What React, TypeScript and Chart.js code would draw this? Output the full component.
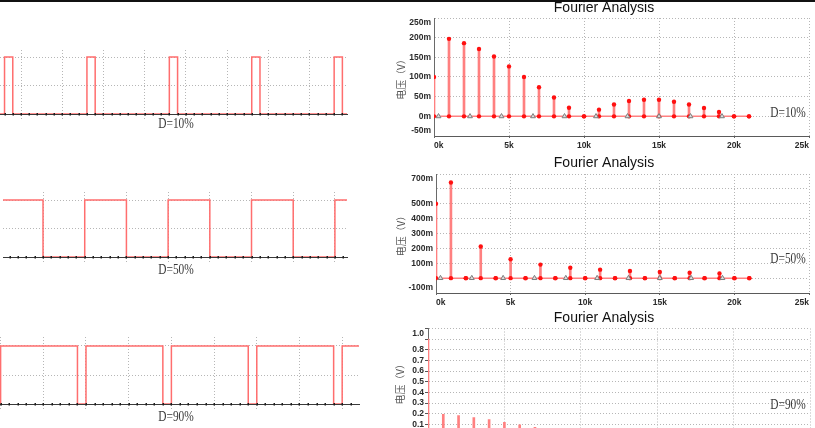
import React, { useEffect, useRef } from 'react';
import { Chart, registerables } from 'chart.js';

Chart.register(...registerables);

const SANS = '"Liberation Sans", Arial, Helvetica, sans-serif';
const SERIF = '"Liberation Serif", "Times New Roman", serif';
const CJK = '"Noto Sans CJK SC", "Noto Sans", sans-serif';

// ---------------- time-domain pulse trains (time in ms, level in V) ----------------
const w10Time = [-0.255, -0.2, -0.1, 0.8, 0.9, 1.8, 1.9, 2.8, 2.9, 3.8, 3.9, 3.956];
const w10Level = [0, 1, 0, 1, 0, 1, 0, 1, 0, 1, 0, 0];
const w10Grid = [0, 0.5, 1, 1.5, 2, 2.5, 3, 3.5];

const w50Time = [0.02, 0.5, 1, 1.5, 2, 2.5, 3, 3.5, 4, 4.145];
const w50Level = [1, 0, 1, 0, 1, 0, 1, 0, 1, 1];
const w50Grid = [0.5, 1, 1.5, 2, 2.5, 3, 3.5, 4];

const w90Time = [-0.007, 0, 0.9, 1, 1.9, 2, 2.9, 3, 3.9, 4, 4.197];
const w90Level = [0, 1, 0, 1, 0, 1, 0, 1, 0, 1, 1];
const w90Grid = [0, 0.5, 1, 1.5, 2, 2.5, 3, 3.5, 4];

const levelGrid = [0, 0.5, 1];
const minorStepMs = 0.1;

// ---------------- Fourier spectra (frequency in kHz, amplitude in V) ----------------
const harmonicsKHz = [0, 1, 2, 3, 4, 5, 6, 7, 8, 9, 10, 11, 12, 13, 14, 15, 16, 17, 18, 19, 20, 21];
const amp10 = [0.100, 0.197, 0.186, 0.171, 0.152, 0.127, 0.100, 0.074, 0.048, 0.022, 0, 0.017, 0.030, 0.039, 0.042, 0.042, 0.037, 0.030, 0.021, 0.011, 0, 0];
const amp50 = [0.500, 0.643, 0, 0.213, 0, 0.127, 0, 0.091, 0, 0.070, 0, 0.057, 0, 0.048, 0, 0.041, 0, 0.036, 0, 0.031, 0, 0];
const amp90 = [0.900, 0.194, 0.182, 0.164, 0.145, 0.119, 0.095, 0.073, 0.047, 0.022, 0, 0.017, 0.030, 0.039, 0.042, 0.042, 0.037, 0.030, 0.021, 0.011, 0, 0];
const markerKHz = [0.3, 2.4, 4.5, 6.6, 8.7, 10.8, 12.9, 15.0, 17.1, 19.2];

const freqTicksKHz = [0, 5, 10, 15, 20, 25];
const freqTickLabels = ['0k', '5k', '10k', '15k', '20k', '25k'];

const f10YTicks = [-0.05, 0, 0.05, 0.1, 0.15, 0.2, 0.25];
const f10YLabels = ['-50m', '0m', '50m', '100m', '150m', '200m', '250m'];
const f50YTicks = [-0.1, 0, 0.1, 0.2, 0.3, 0.4, 0.5, 0.6, 0.7];
const f50YLabels = ['-100m', '', '100m', '200m', '300m', '400m', '500m', '', '700m'];
const f90YTicks = [0, 0.1, 0.2, 0.3, 0.4, 0.5, 0.6, 0.7, 0.8, 0.9, 1.0];
const f90YLabels = ['', '0.1', '0.2', '0.3', '0.4', '0.5', '0.6', '0.7', '0.8', '', '1.0'];

const chartTitle = 'Fourier Analysis';
const yAxisTitle = '电压（V）';
const dutyLabels = ['D=10%', 'D=50%', 'D=90%'];

// ---------------- styles ----------------
const PULSE_RED = '#ff6e6e';
const DOT_RED = '#ff1010';
const STEM_RED = '#ff8080';
const GRID_GRAY = '#b6b6b6';
const DOT_DASH = [1, 2];
const TICK_FONT = { family: SANS, size: 8.5, weight: 'bold' as const };
const TICK_TXT = '#2a2a2a';

const hideAt = (val: number, color: string) => (c: any) =>
  c.tick && Math.abs(c.tick.value - val) < 1e-9 ? 'rgba(0,0,0,0)' : color;

const minorTicksPlugin = {
  id: 'minorTicks',
  afterDatasetsDraw(chart: any, _args: any, opts: any) {
    const step = opts && opts.step;
    if (!step) return;
    const xs = chart.scales.x;
    const ys = chart.scales.y;
    const y0 = Math.round(ys.getPixelForValue(0));
    const ctx = chart.ctx;
    ctx.save();
    ctx.fillStyle = opts.color || '#222';
    const first = Math.ceil(xs.min / step - 1e-9);
    const last = Math.floor(xs.max / step + 1e-9);
    for (let i = first; i <= last; i++) {
      const px = Math.round(xs.getPixelForValue(i * step));
      ctx.fillRect(px - 0.5, y0 - 1, 1.5, 2.5);
    }
    ctx.restore();
  },
};

function waveConfig(time: number[], level: number[], grid: number[], yMax: number): any {
  return {
    type: 'line',
    data: {
      datasets: [
        {
          data: time.map((t, i) => ({ x: t, y: level[i] })),
          stepped: true,
          borderColor: PULSE_RED,
          borderWidth: 1.5,
          pointRadius: 0,
          fill: false,
        },
      ],
    },
    options: {
      animation: false,
      responsive: false,
      devicePixelRatio: 1,
      events: [],
      layout: { padding: { left: 0, right: 2, top: 0, bottom: 0 } },
      plugins: {
        legend: { display: false },
        tooltip: { enabled: false },
        title: { display: false },
        minorTicks: { step: minorStepMs, color: '#1e1e1e' },
      },
      scales: {
        x: {
          type: 'linear',
          min: time[0],
          max: time[time.length - 1],
          afterBuildTicks: (s: any) => {
            s.ticks = grid.map((v) => ({ value: v }));
          },
          afterFit: (s: any) => {
            s.height = 7;
          },
          ticks: { display: false },
          grid: {
            color: GRID_GRAY,
            lineWidth: 1,
            drawTicks: true,
            tickLength: 7,
            tickColor: GRID_GRAY,
            tickBorderDash: DOT_DASH,
          },
          border: { display: true, color: '#3a3a3a', width: 1, dash: DOT_DASH },
        },
        y: {
          type: 'linear',
          min: 0,
          max: yMax,
          afterBuildTicks: (s: any) => {
            s.ticks = levelGrid.map((v) => ({ value: v }));
          },
          afterFit: (s: any) => {
            s.width = 0;
          },
          ticks: { display: false },
          grid: { color: hideAt(0, GRID_GRAY), drawTicks: false },
          border: { display: false, dash: DOT_DASH },
        },
      },
    },
    plugins: [minorTicksPlugin],
  };
}

type FOpts = {
  amps: number[];
  topDots: boolean;
  yTicks: number[];
  yLabels: string[];
  yWidth: number;
  titlePad: number;
  yTickLen: number;
};

function fourierConfig(o: FOpts): any {
  const stems = harmonicsKHz.map((k, i) => ({ x: k, y: o.amps[i] }));
  const zeros = harmonicsKHz.map((k) => ({ x: k, y: 0 }));
  const marks = markerKHz.map((k) => ({ x: k, y: 0 }));
  const lastY = o.yTicks.length - 1;
  return {
    type: 'scatter',
    data: {
      datasets: [
        {
          type: 'scatter',
          data: stems,
          pointRadius: o.topDots ? 2.2 : 0,
          pointBackgroundColor: DOT_RED,
          pointBorderWidth: 0,
          showLine: false,
        },
        {
          type: 'scatter',
          data: marks,
          pointStyle: 'triangle',
          pointRadius: 2.8,
          pointBackgroundColor: '#dddddd',
          pointBorderColor: '#7d7d7d',
          pointBorderWidth: 1,
          showLine: false,
        },
        {
          type: 'line',
          data: zeros,
          borderColor: STEM_RED,
          borderWidth: 1.5,
          pointRadius: 2.2,
          pointBackgroundColor: DOT_RED,
          pointBorderWidth: 0,
          fill: false,
        },
        {
          type: 'bar',
          data: stems,
          backgroundColor: STEM_RED,
          borderWidth: 0,
          barThickness: 2,
        },
      ],
    },
    options: {
      animation: false,
      responsive: false,
      devicePixelRatio: 1,
      events: [],
      layout: { padding: { left: 0, right: 2, top: 0, bottom: 0 } },
      plugins: {
        legend: { display: false },
        tooltip: { enabled: false },
        title: {
          display: true,
          text: chartTitle,
          color: '#111',
          font: { family: SANS, size: 14, weight: 'normal' },
          padding: { top: 0, bottom: o.titlePad },
        },
      },
      scales: {
        x: {
          type: 'linear',
          min: freqTicksKHz[0],
          max: freqTicksKHz[freqTicksKHz.length - 1],
          offset: false,
          afterBuildTicks: (s: any) => {
            s.ticks = freqTicksKHz.map((v) => ({ value: v }));
          },
          afterFit: (s: any) => {
            s.height = 20;
          },
          ticks: {
            autoSkip: false,
            maxRotation: 0,
            align: 'inner',
            padding: 3,
            color: TICK_TXT,
            font: TICK_FONT,
            callback: (_v: any, i: number) => freqTickLabels[i],
          },
          grid: {
            color: hideAt(freqTicksKHz[0], GRID_GRAY),
            offset: false,
            drawTicks: true,
            tickLength: 2,
            tickColor: '#666',
          },
          border: { display: true, color: '#5a5a5a', width: 1, dash: DOT_DASH },
        },
        y: {
          type: 'linear',
          min: o.yTicks[0],
          max: o.yTicks[lastY],
          afterBuildTicks: (s: any) => {
            s.ticks = o.yTicks.map((v) => ({ value: v }));
          },
          afterFit: (s: any) => {
            s.width = o.yWidth;
          },
          ticks: {
            autoSkip: false,
            padding: o.yTickLen > 0 ? 1 : 3,
            color: TICK_TXT,
            font: TICK_FONT,
            callback: (_v: any, i: number) => {
              const lab = o.yLabels[i] ?? '';
              if (i === lastY) return ['', lab];
              if (i === 0) return [lab, ''];
              return lab;
            },
          },
          grid: {
            color: hideAt(o.yTicks[0], GRID_GRAY),
            drawTicks: o.yTickLen > 0,
            tickLength: o.yTickLen,
            tickColor: '#555',
          },
          border: { display: true, color: '#6a6a6a', width: 1, dash: DOT_DASH },
          title: {
            display: true,
            text: yAxisTitle,
            color: '#555',
            font: { family: CJK, size: 10, lineHeight: 1 },
            padding: 0,
          },
        },
      },
    },
  };
}

type Geo = { left: number; top: number; width: number; height: number };

function ChartBox({ geo, build }: { geo: Geo; build: () => any }) {
  const ref = useRef<HTMLCanvasElement | null>(null);
  useEffect(() => {
    if (!ref.current) return;
    const chart = new Chart(ref.current, build());
    return () => chart.destroy();
  }, []);
  return (
    <canvas
      ref={ref}
      width={geo.width}
      height={geo.height}
      style={{ position: 'absolute', left: geo.left, top: geo.top, width: geo.width, height: geo.height }}
    />
  );
}

function DutyLabel({ text, cx, cy }: { text: string; cx: number; cy: number }) {
  return (
    <div
      style={{
        position: 'absolute',
        left: cx,
        top: cy,
        transform: 'translate(-50%, -50%) scaleX(0.76)',
        fontFamily: SERIF,
        fontSize: 15,
        lineHeight: '15px',
        color: '#3a3a3a',
        whiteSpace: 'nowrap',
      }}
    >
      {text}
    </div>
  );
}

export default function App() {
  return (
    <div
      style={{
        position: 'fixed',
        left: 0,
        top: 0,
        width: 815,
        height: 428,
        overflow: 'hidden',
        background: '#fff',
      }}
    >
      <ChartBox geo={{ left: 0, top: 50, width: 349, height: 71 }} build={() => waveConfig(w10Time, w10Level, w10Grid, 64 / 57)} />
      <ChartBox geo={{ left: 3, top: 192, width: 346, height: 72 }} build={() => waveConfig(w50Time, w50Level, w50Grid, 65 / 57)} />
      <ChartBox geo={{ left: 0, top: 337, width: 361, height: 74 }} build={() => waveConfig(w90Time, w90Level, w90Grid, 67 / 58)} />

      <ChartBox
        geo={{ left: 396, top: 0, width: 418, height: 156 }}
        build={() => fourierConfig({ amps: amp10, topDots: true, yTicks: f10YTicks, yLabels: f10YLabels, yWidth: 38, titlePad: 1.2, yTickLen: 0 })}
      />
      <ChartBox
        geo={{ left: 396, top: 155, width: 418, height: 158 }}
        build={() => fourierConfig({ amps: amp50, topDots: true, yTicks: f50YTicks, yLabels: f50YLabels, yWidth: 40, titlePad: 2.2, yTickLen: 0 })}
      />
      <ChartBox
        geo={{ left: 395, top: 310, width: 420, height: 145 }}
        build={() => fourierConfig({ amps: amp90, topDots: false, yTicks: f90YTicks, yLabels: f90YLabels, yWidth: 33, titlePad: 1.7, yTickLen: 3 })}
      />

      <DutyLabel text={dutyLabels[0]} cx={176} cy={123} />
      <DutyLabel text={dutyLabels[1]} cx={176} cy={269} />
      <DutyLabel text={dutyLabels[2]} cx={176} cy={416} />
      <DutyLabel text={dutyLabels[0]} cx={788} cy={112} />
      <DutyLabel text={dutyLabels[1]} cx={788} cy={258} />
      <DutyLabel text={dutyLabels[2]} cx={788} cy={404} />

      <div style={{ position: 'absolute', left: 0, top: 0, width: 815, height: 2, background: '#111' }} />
    </div>
  );
}
